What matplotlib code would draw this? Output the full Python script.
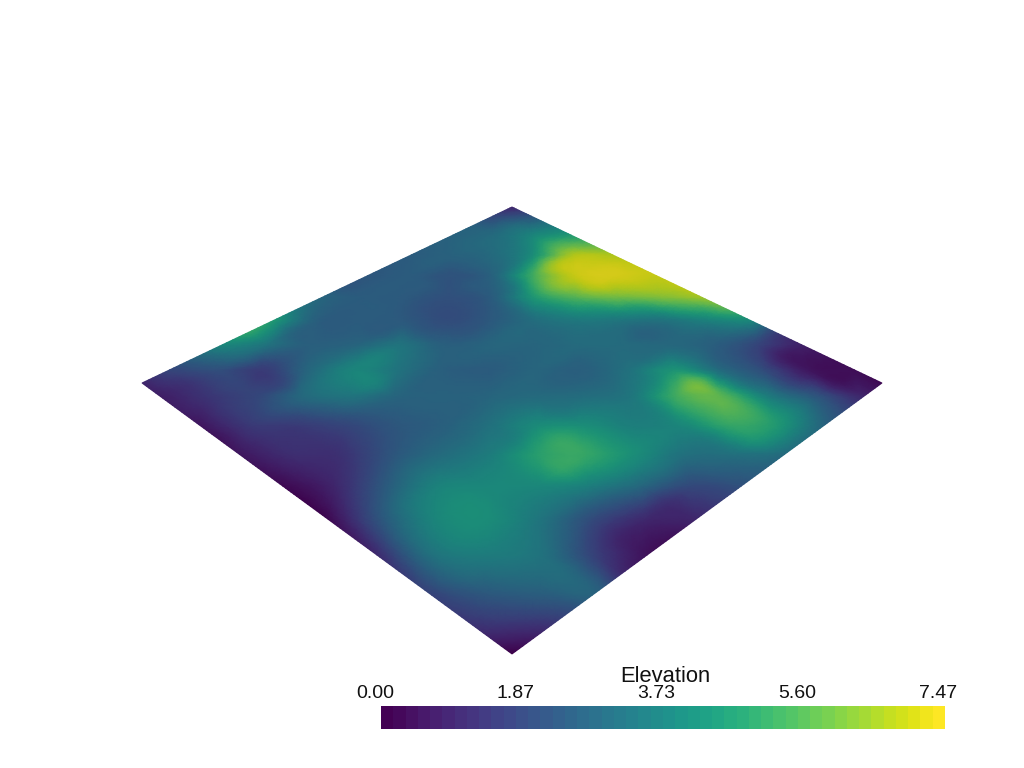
import numpy as np
import matplotlib
matplotlib.use("Agg")
import matplotlib.pyplot as plt
import matplotlib.tri as mtri
from matplotlib.colors import ListedColormap

plt.rcParams['font.family'] = ['Liberation Sans', 'DejaVu Sans']

# elevation, rows go from the bottom-right edge (v=0)
# to the left-top edge (v=1), columns from the bottom-left edge (u=0) to the right-top edge (u=1)
row_00 = [0.0, 0.9, 1.9, 2.7, 1.0, 0.4, 0.4, 0.9, 1.5, 2.1, 2.6, 3.0, 3.1, 2.7, 1.9, 0.9, 0.2]
row_01 = [1.0, 1.8, 2.6, 3.0, 1.7, 0.9, 1.0, 1.2, 1.9, 2.6, 3.2, 4.5, 4.6, 3.7, 2.3, 0.5, 0.3]
row_02 = [1.5, 2.4, 3.1, 3.3, 2.6, 2.0, 2.3, 2.9, 3.2, 3.2, 3.6, 5.1, 5.3, 3.6, 1.8, 0.5, 0.4]
row_03 = [1.7, 3.0, 3.6, 3.7, 3.4, 3.3, 3.7, 4.2, 4.2, 3.9, 4.0, 5.3, 5.7, 3.3, 2.0, 0.7, 0.8]
row_04 = [1.5, 3.2, 4.0, 4.2, 3.9, 4.0, 5.0, 5.1, 4.4, 3.7, 3.8, 5.3, 6.0, 3.1, 2.2, 1.8, 1.6]
row_05 = [1.0, 2.9, 3.9, 4.2, 4.0, 4.1, 4.8, 5.1, 4.2, 3.6, 3.4, 3.9, 4.4, 3.2, 2.6, 3.0, 4.0]
row_06 = [0.6, 2.3, 3.4, 3.8, 3.6, 3.6, 3.7, 4.1, 3.4, 3.1, 2.9, 3.2, 3.1, 2.9, 3.0, 3.8, 5.6]
row_07 = [0.2, 1.5, 2.4, 3.0, 3.0, 3.0, 3.2, 3.3, 3.0, 2.7, 2.6, 2.9, 3.0, 2.7, 3.3, 5.0, 6.6]
row_08 = [0.1, 0.9, 1.6, 2.2, 2.5, 2.6, 2.7, 2.8, 2.8, 2.8, 2.9, 3.0, 3.1, 3.4, 4.5, 6.2, 7.0]
row_09 = [0.2, 0.9, 1.2, 1.8, 2.3, 2.6, 2.7, 2.6, 2.5, 2.7, 2.8, 3.0, 3.5, 4.5, 6.0, 6.9, 7.1]
row_10 = [0.4, 1.1, 1.3, 1.8, 2.5, 2.8, 2.7, 2.6, 2.7, 2.8, 2.9, 3.1, 4.1, 5.6, 7.0, 7.3, 7.1]
row_11 = [0.5, 1.2, 1.5, 2.4, 3.3, 3.9, 3.3, 3.0, 2.6, 2.3, 2.4, 2.9, 4.5, 6.2, 7.1, 7.2, 6.8]
row_12 = [0.4, 1.4, 2.1, 2.9, 3.5, 3.9, 3.8, 3.3, 2.4, 2.0, 2.1, 2.5, 3.4, 5.3, 6.7, 6.8, 5.8]
row_13 = [0.5, 1.4, 1.8, 1.8, 2.8, 3.0, 2.8, 2.5, 2.4, 2.1, 2.1, 2.4, 2.7, 3.4, 4.2, 5.3, 4.6]
row_14 = [0.7, 1.3, 1.8, 1.5, 2.3, 2.6, 2.5, 2.5, 2.5, 2.4, 2.4, 2.2, 2.6, 3.0, 3.4, 3.9, 3.5]
row_15 = [0.7, 1.3, 2.1, 2.9, 3.3, 2.8, 2.6, 2.5, 2.5, 2.5, 2.5, 2.6, 2.7, 2.9, 3.0, 3.0, 2.2]
row_16 = [0.9, 1.8, 2.8, 4.0, 5.0, 4.6, 3.4, 2.8, 2.3, 2.3, 2.4, 2.5, 2.6, 2.7, 2.6, 1.8, 0.9]

tick_labels = ["0.00", "1.87", "3.73", "5.60", "7.47"]
bar_title = "Elevation"
vmin, vmax = 0.0, 7.47

elevation = np.array([row_00, row_01, row_02, row_03, row_04, row_05, row_06, row_07, row_08,
                      row_09, row_10, row_11, row_12, row_13, row_14, row_15, row_16])


def project(u, v):
    # perspective view of the unit square, gives pixels of the 1024x768 image
    t = u + v - 1
    w = 1 + 0.2125 * t
    return 512 + 370 * (u - v) / w, (383 - 132 * t) / w


fig = plt.figure(figsize=(10.24, 7.68), dpi=100, facecolor="white")
ax = fig.add_axes([0, 0, 1, 1])
ax.set_xlim(0, 1024)
ax.set_ylim(768, 0)
ax.axis("off")

# the surface is lit, so its colours are a bit darker than the colorbar
lit = plt.get_cmap("viridis")(np.linspace(0, 1, 256))[:, :3] * 0.88
U, V = np.meshgrid(np.linspace(0, 1, elevation.shape[1]), np.linspace(0, 1, elevation.shape[0]))
tri = mtri.Triangulation(U.ravel(), V.ravel())
smooth = mtri.CubicTriInterpolator(tri, elevation.ravel(), kind="geom")
fine_tri, fine_z = mtri.UniformTriRefiner(tri).refine_field(elevation.ravel(), triinterpolator=smooth, subdiv=3)
fine_x, fine_y = project(fine_tri.x, fine_tri.y)
ax.tripcolor(mtri.Triangulation(fine_x, fine_y, fine_tri.triangles), np.clip(fine_z, vmin, vmax),
             shading="gouraud", cmap=ListedColormap(lit), vmin=vmin, vmax=vmax)

# colorbar
cax = fig.add_axes([381 / 1024, 1 - 729 / 768, 564 / 1024, 23 / 768])
cax.imshow(np.linspace(vmin, vmax, 46)[None, :], aspect="auto", cmap="viridis", vmin=vmin, vmax=vmax,
           interpolation="nearest")
cax.axis("off")

for i, label in enumerate(tick_labels):
    ax.text(375 + 140.75 * i, 694, label, ha="center", va="center", fontsize=14, color="#111111")
ax.text(665.5, 677, bar_title, ha="center", va="center", fontsize=15.8, color="#111111")

fig.savefig("out.png", dpi=100)
